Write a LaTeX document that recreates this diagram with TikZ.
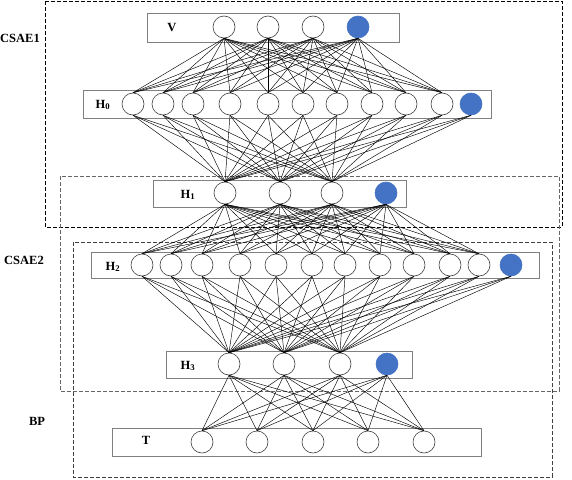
\documentclass[tikz,border=0pt]{standalone}
\usepackage{fontspec}
\setmainfont{Liberation Serif}
\definecolor{biasblue}{RGB}{68,114,196}
\tikzset{
  unit/.style={draw=black!75,circle,fill=white,minimum size=22pt,inner sep=0pt,line width=0.6pt},
  bias/.style={unit,draw=biasblue,fill=biasblue},
  layer/.style={draw=black!50,line width=0.9pt},
  group/.style={dash pattern=on 4pt off 2pt,line width=0.7pt},
  tag/.style={font=\fontsize{12.5}{14}\selectfont\bfseries}
}
\begin{document}
\begin{tikzpicture}[x=1pt,y=-1pt,line width=0.45pt]
      \useasboundingbox (0,0) rectangle (572,479);
      % dashed groups
      \draw[group] (45,1) rectangle (562,227);
      \draw[group,black!60] (60,176) rectangle (559,391);
      \draw[group,black!75] (73,242) rectangle (552,477);
      \node[tag] (csae1) at (20,38) {CSAE1};
      \node[tag] (csae2) at (24,260) {CSAE2};
      \node[tag] (bp) at (37,421) {BP};
      % layer boxes
      \draw[layer] (147,13) rectangle (399,42);
      \draw[layer] (83,90) rectangle (491,118);
      \draw[layer] (153,180) rectangle (406,207);
      \draw[layer] (91,252) rectangle (539,278);
      \draw[layer] (166,351) rectangle (412,378);
      \draw[layer] (112,428) rectangle (481,456);
      \node[tag] (vlab) at (172,28) {V};
      \node[tag] (h0lab) at (103,105) {H\textsubscript{0}};
      \node[tag] (h1lab) at (188,195) {H\textsubscript{1}};
      \node[tag] (h2lab) at (113,267) {H\textsubscript{2}};
      \node[tag] (h3lab) at (188,366) {H\textsubscript{3}};
      \node[tag] (tlab) at (146,440) {T};
      % units
      \foreach \x [count=\i] in {224,268,313}
        \node[unit] (v\i) at (\x,27) {};
      \node[bias] (v4) at (358,27) {};
      \foreach \x [count=\i] in {133,163,193,230,268,303,337,372,406,442}
        \node[unit] (a\i) at (\x,104) {};
      \node[bias] (a11) at (471,104) {};
      \foreach \x [count=\i] in {225,280,332}
        \node[unit] (b\i) at (\x,193) {};
      \node[bias] (b4) at (386,193) {};
      \foreach \x [count=\i] in {142,171,202,240,276,312,345,380,414,450,479}
        \node[unit] (c\i) at (\x,265) {};
      \node[bias] (c12) at (511,265) {};
      \foreach \x [count=\i] in {229,284,340}
        \node[unit] (d\i) at (\x,364) {};
      \node[bias] (d4) at (387,364) {};
      \foreach \x [count=\i] in {202,257,313,368,424}
        \node[unit] (t\i) at (\x,442) {};
      % connections
      \foreach \i in {1,...,4}
        \foreach \j in {1,...,10}
          \draw (v\i.south) -- (a\j.north);
      \foreach \i in {1,...,11}
        \foreach \j in {1,...,3}
          \draw (a\i.south) -- (b\j.north);
      \foreach \i in {1,...,4}
        \foreach \j in {1,...,11}
          \draw (b\i.south) -- (c\j.north);
      \foreach \i in {1,...,12}
        \foreach \j in {1,...,3}
          \draw (c\i.south) -- (d\j.north);
      \foreach \i in {1,...,4}
        \foreach \j in {1,...,5}
          \draw (d\i.south) -- (t\j.north);
    \end{tikzpicture}
\end{document}
